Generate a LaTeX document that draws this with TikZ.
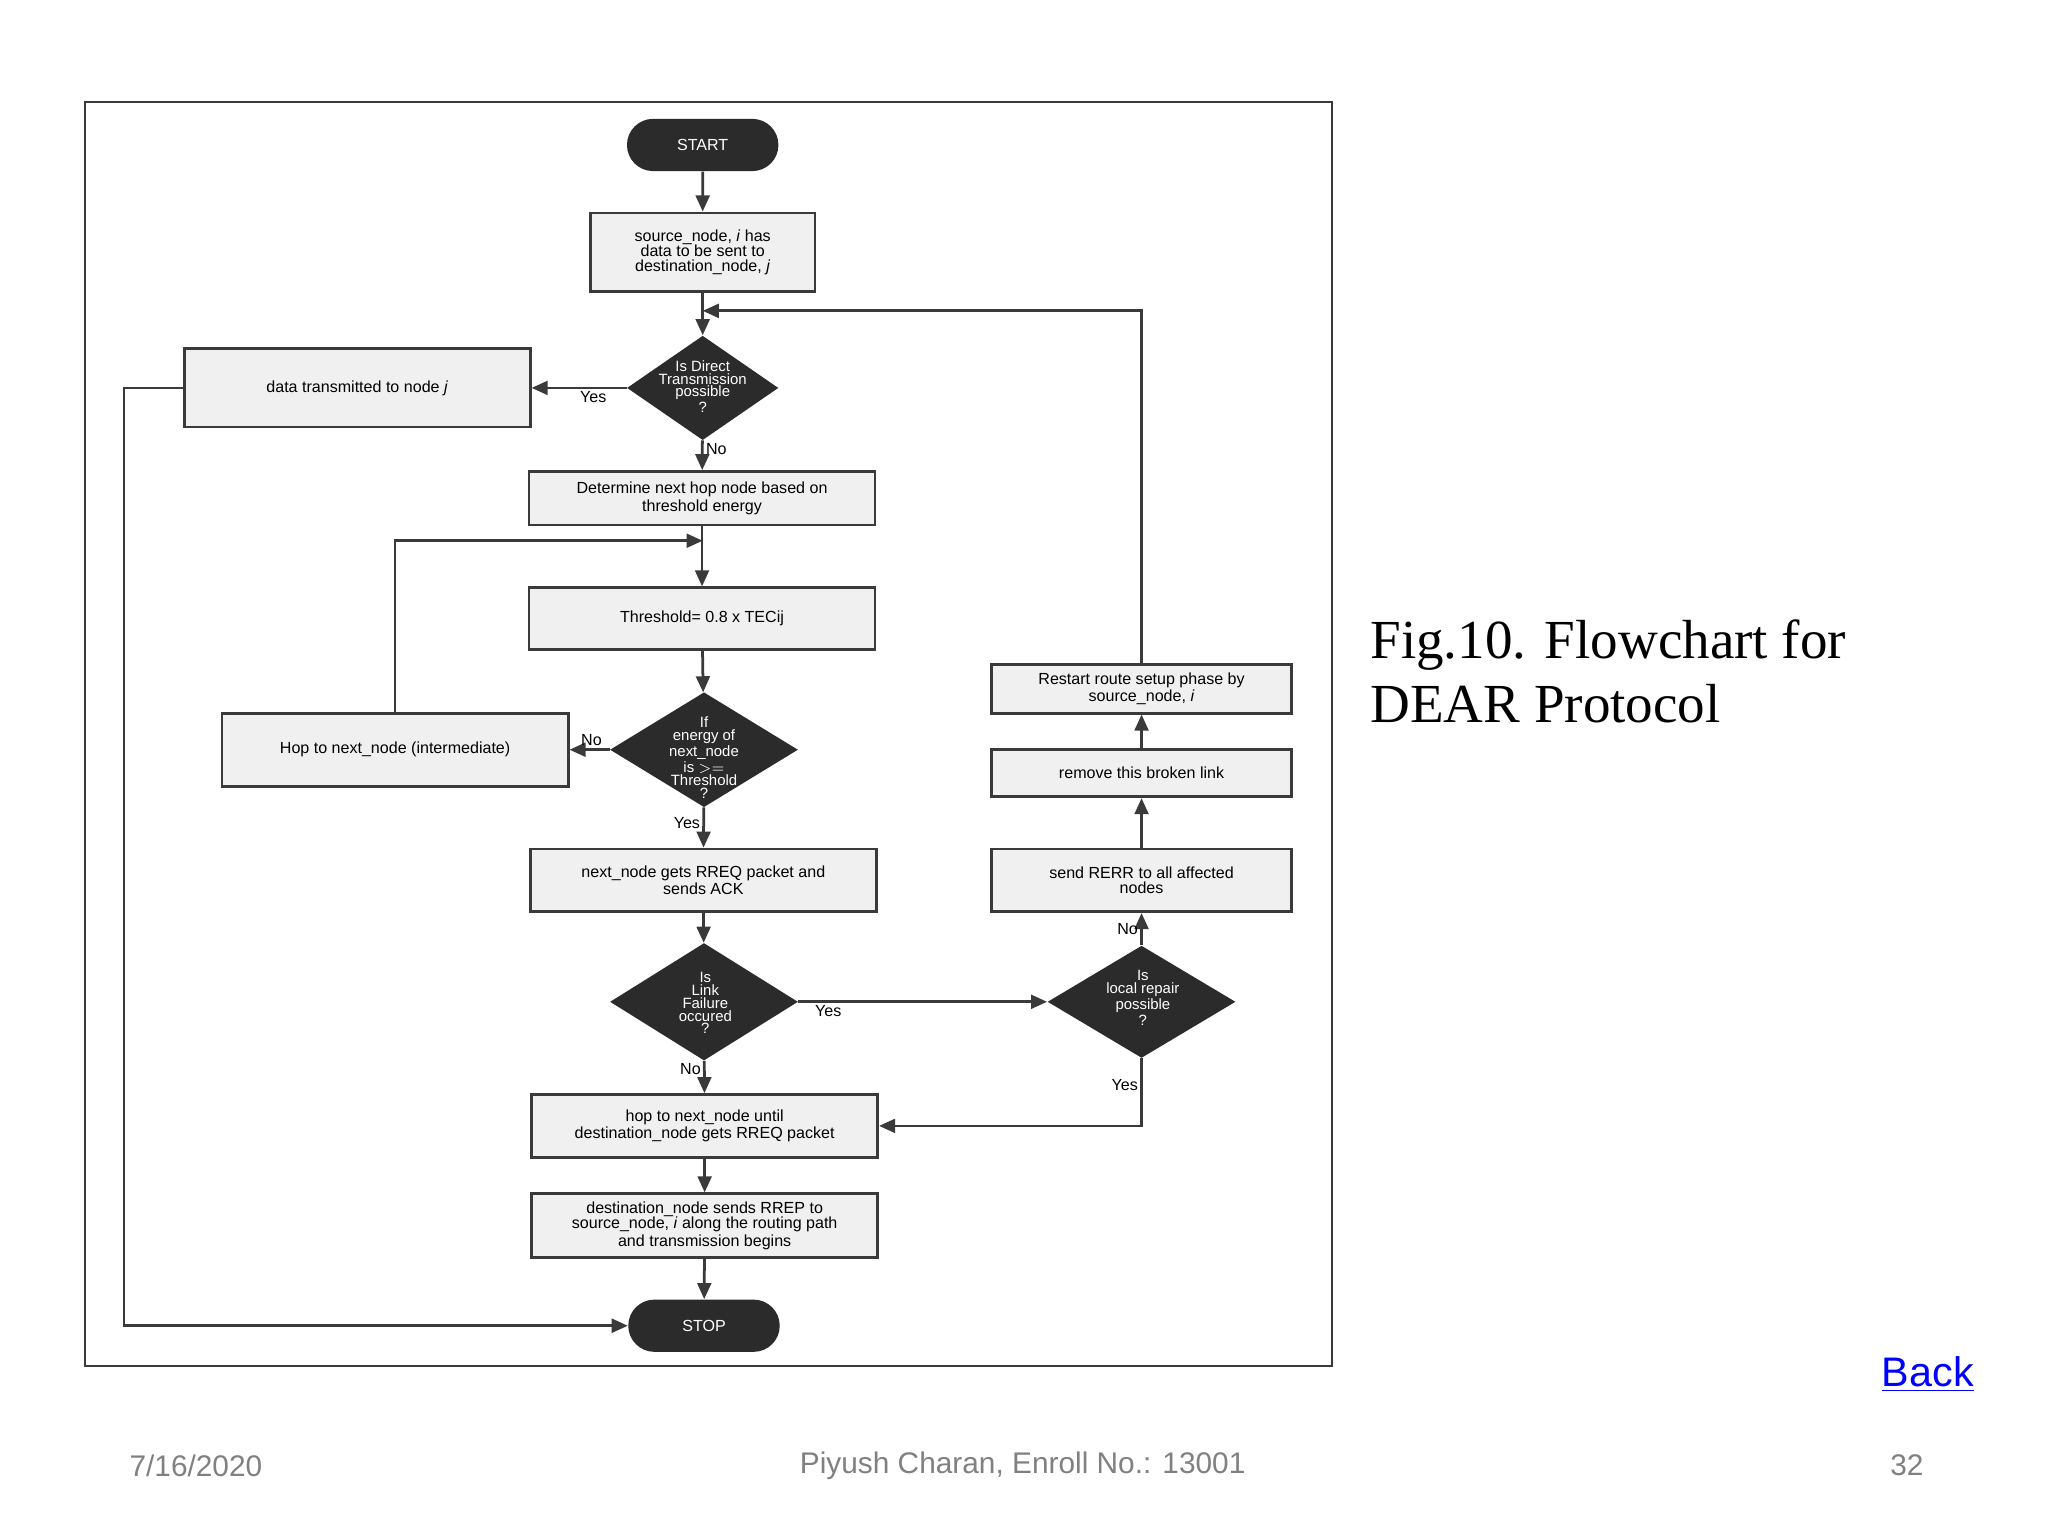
\documentclass[tikz,border=0pt]{standalone}
\usepackage{fontspec}
\setmainfont{Liberation Sans}
\newfontfamily\serifx{Liberation Serif}
\usetikzlibrary{shapes.geometric,shapes.misc,arrows.meta}
\definecolor{ln}{HTML}{3A3A3A}
\definecolor{bx}{HTML}{F0F0F0}
\definecolor{dk}{HTML}{2B2B2B}
\begin{document}
\begin{tikzpicture}[x=0.02cm,y=-0.02cm,
  every node/.style={font=\fontsize{7}{6.5}\selectfont, align=center},
  box/.style={draw=ln, line width=1.2pt, fill=bx, inner sep=0pt},
  term/.style={rounded rectangle, fill=dk, text=white, minimum width=2.32cm, minimum height=0.8cm, inner sep=0pt},
  dia/.style={diamond, fill=dk, inner sep=0pt},
  dt/.style={text=white, font=\fontsize{6.5}{5.6}\selectfont},
  lab/.style={font=\fontsize{7}{7}\selectfont, inner sep=1pt},
  con/.style={draw=ln, line width=1.2pt, -{Triangle[length=7pt,width=6pt]}},
  fr/.style={draw=ln, line width=1.2pt}]
\useasboundingbox (0,0) rectangle (1568,1176);
\draw[line width=1pt, draw=ln] (65,78) rectangle (1020,1046);

\node[term] (start) at (538,111) {START};
\node[box, minimum width=3.44cm, minimum height=1.2cm] (src) at (538,193) {source\_node, \textit{i} has\\data to be sent to\\destination\_node, \textit{j}};
\node[dia, minimum width=2.32cm, minimum height=1.6cm] (d1) at (538,297) {};
\node[dt] (d1t) at (538,296) {Is Direct\\Transmission\\possible\\?};
\node[box, minimum width=5.3cm, minimum height=1.2cm] (data) at (273.5,297) {data transmitted to node \textit{j}};
\node[box, minimum width=5.3cm, minimum height=0.82cm] (det) at (537.5,381.5) {Determine next hop node based on\\threshold energy};
\node[box, minimum width=5.3cm, minimum height=0.94cm] (thr) at (537.5,473.5) {Threshold= 0.8 x TECij};
\node[dia, minimum width=2.88cm, minimum height=1.76cm] (d2) at (539,574) {};
\node[dt] (d2t) at (539,580) {If\\energy of\\next\_node\\is $>=$\\Threshold\\?};
\node[box, minimum width=5.3cm, minimum height=1.12cm] (hop) at (302.5,574) {Hop to next\_node (intermediate)};
\node[box, minimum width=5.3cm, minimum height=0.96cm] (nxt) at (538.5,674) {next\_node gets RREQ packet and\\sends ACK};
\node[dia, minimum width=2.88cm, minimum height=1.8cm] (d3) at (539,767) {};
\node[dt] (d3t) at (540,768) {Is\\Link\\Failure\\occured\\?};
\node[dia, minimum width=2.88cm, minimum height=1.72cm] (d4) at (874,767) {};
\node[dt] (d4t) at (875,764) {Is\\local repair\\possible\\?};
\node[box, minimum width=4.6cm, minimum height=0.96cm] (rerr) at (874,674) {send RERR to all affected\\nodes};
\node[box, minimum width=4.6cm, minimum height=0.72cm] (rem) at (874,592) {remove this broken link};
\node[box, minimum width=4.6cm, minimum height=0.74cm] (rst) at (874,527.5) {Restart route setup phase by\\source\_node, \textit{i}};
\node[box, minimum width=5.3cm, minimum height=0.96cm] (hop2) at (539.5,862) {hop to next\_node until\\destination\_node gets RREQ packet};
\node[box, minimum width=5.3cm, minimum height=0.98cm] (dst) at (539.5,938.5) {destination\_node sends RREP to\\source\_node, \textit{i} along the routing path\\and transmission begins};
\node[term] (stop) at (539,1015) {STOP};

\coordinate (j1) at (538,238);
\coordinate (j2) at (538,414);

\draw[con] (start) -- (src);
\draw[con] (src) -- (d1);
\draw[con] (rst.north) |- (j1);
\draw[con] (d1) -- node[lab, below, pos=0.35] {Yes} (data);
\draw[con] (d1) -- node[lab, right, pos=0.3] {No} (det);
\draw[con] (det) -- (thr);
\draw[con] (hop.north) |- (j2);
\draw[con] (thr) -- (d2);
\draw[con] (d2) -- node[lab, above, pos=0.45] {No} (hop);
\draw[con] (d2) -- node[lab, left, pos=0.4] {Yes} (nxt);
\draw[con] (nxt) -- (d3);
\draw[con] (d3) -- node[lab, below, pos=0.12] {Yes} (d4);
\draw[con] (d3) -- node[lab, left, pos=0.25] {No} (hop2);
\draw[con] (d4.south) |- node[lab, left, pos=0.2] {Yes} (hop2.east);
\draw[con] (d4) -- node[lab, left, pos=0.5] {No} (rerr);
\draw[con] (rerr) -- (rem);
\draw[con] (rem) -- (rst);
\draw[con] (hop2) -- (dst);
\draw[con] (dst) -- (stop);
\draw[con] (data.west) -- (95,297) |- (stop.west);

\node[anchor=west, font=\serifx\fontsize{24}{28}\selectfont, align=left] (title) at (1043,514) {Fig.10. Flowchart for\\DEAR Protocol};
\node[font=\fontsize{18}{18}\selectfont, text=blue] (back) at (1476,1052) {\underline{Back}};
\node[font=\fontsize{13}{13}\selectfont, text=gray] (date) at (150,1122) {7/16/2020};
\node[font=\fontsize{13}{13}\selectfont, text=gray] (auth) at (783,1122) {Piyush Charan, Enroll No.: 13001};
\node[font=\fontsize{13}{13}\selectfont, text=gray] (pg) at (1460,1122) {32};
\end{tikzpicture}
\end{document}
